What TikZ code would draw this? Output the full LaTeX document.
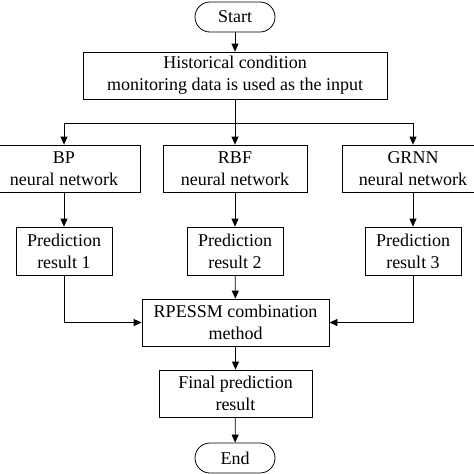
\documentclass[tikz,border=0pt]{standalone}
\usepackage{fontspec}
\setmainfont{Liberation Serif}
\usetikzlibrary{arrows.meta}

\tikzset{
  box/.style={draw, thick, rectangle, align=center, inner sep=0pt, minimum height=47pt,
              font=\fontsize{18}{22}\selectfont},
  term/.style={box, rounded corners=15pt, minimum width=80pt, minimum height=30pt},
  flow/.style={draw, thick, -{Triangle[length=8pt,width=7pt]}}
}

\begin{document}
\begin{tikzpicture}[x=1pt, y=-1pt, line width=0.8pt]
 \useasboundingbox (0,0) rectangle (474,474);

 % top
 \node[term] (start) at (235,17) {Start};
 \node[box, minimum width=304pt] (input) at (235,75.5) {Historical condition\\monitoring data is used as the input};
 \coordinate (split) at (235,123);

 \path[flow] (start) -- (input);
 \draw[thick] (input) -- (split);

 % three networks
 \foreach \i/\x/\w/\name in { 1/64/152/BP, 2/235/144/RBF, 3/413/142/GRNN } {
         \node[box, minimum width=\w pt] (nn\i) at (\x,168.5) {\name\\neural network};
         \node[box, minimum width=96pt, minimum height=48pt] (pr\i) at (\x,251) {Prediction\\result \i};
         \path[flow] (split) -| (nn\i);
         \path[flow] (nn\i) -- (pr\i);
 }

 % combination
 \node[box, minimum width=187pt] (comb) at (235.5,322.5) {RPESSM combination\\method};
 \node[box, minimum width=153pt] (final) at (235.5,393.5) {Final prediction\\result};
 \node[term] (end) at (235,458) {End};

 \path[flow] (pr1) |- (comb);
 \path[flow] (pr3) |- (comb);
 \path[flow] (pr2) -- (comb);
 \path[flow] (comb) -- (final);
 \path[flow] (final) -- (end);

\end{tikzpicture}
\end{document}
